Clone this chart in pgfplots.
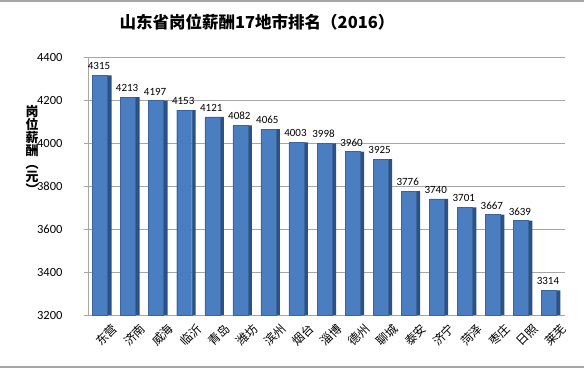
\documentclass[border=0pt]{standalone}
\usepackage{pgfplots}
\pgfplotsset{compat=1.18}
\usepackage{pgfplotstable}
\usepackage{fontspec}
\setmainfont{Carlito}
\newfontfamily\cjk{Noto Sans CJK SC}
\definecolor{barblue}{HTML}{4A7EC0}
\definecolor{barside}{HTML}{2B5286}
\definecolor{gridgray}{HTML}{A6A6A6}
\pgfplotstableread{
x val
0 4315
1 4213
2 4197
3 4153
4 4121
5 4082
6 4065
7 4003
8 3998
9 3960
10 3925
11 3776
12 3740
13 3701
14 3667
15 3639
16 3314
}\datatab
\begin{document}
\begin{tikzpicture}
\path[use as bounding box] (0,0) rectangle (584pt,368pt);
\fill[white] (0,0) rectangle (584pt,368pt);
\draw[gridgray, line width=1.5pt] (0,367pt) -- (584pt,367pt);
\draw[gridgray, line width=1.5pt] (0,1pt) -- (584pt,1pt);
\node[font=\cjk\bfseries\fontsize{16.5}{18}\selectfont] at (257pt,346pt) {山东省岗位薪酬17地市排名（2016）};
\node[font=\cjk\bfseries\fontsize{13}{15}\selectfont, align=center, inner sep=0pt] at (32pt,218pt)
  {岗\\[-2pt]位\\[-2pt]薪\\[-2pt]酬\\[-2pt]︵\\[-2pt]元\\[-2pt]︶};
\begin{axis}[
  at={(88pt,53pt)}, anchor=south west,
  scale only axis, width=477pt, height=258pt,
  ymin=3200, ymax=4400, ytick={3200,3400,...,4400},
  xmin=-0.5, xmax=16.5,
  xtick=data,
  xticklabels={东营,济南,威海,临沂,青岛,潍坊,滨州,烟台,淄博,德州,聊城,泰安,济宁,菏泽,枣庄,日照,莱芜},
  xticklabel style={font=\cjk\fontsize{12}{12}\selectfont, rotate=45, anchor=north east, inner sep=0pt, yshift=-9pt, xshift=4pt},
  yticklabel style={font=\fontsize{12.5}{12.5}\selectfont, anchor=east, xshift=-18pt},
  /pgf/number format/assume math mode=true,
  /pgf/number format/1000 sep={},
  axis lines*=left,
  axis line style={gridgray},
  ymajorgrids, grid style={gridgray, line width=0.6pt},
  major tick length=4pt,
  tick style={gridgray},
  xtick style={draw=none},
  ytick pos=left,
  tick align=outside,
  clip=false,
]
\addplot[ybar, bar width=4pt, bar shift=7.5pt, fill=barside, draw=none] table[x=x, y=val] {\datatab};
\addplot[ybar, bar width=15pt, bar shift=-2pt, fill=barblue, draw=barblue!80!black, line width=0.3pt,
  nodes near coords, nodes near coords style={font=\fontsize{11}{11}\selectfont, text=black, xshift=-3pt, yshift=2pt},
  point meta=explicit symbolic] table[x=x, y=val, meta=val] {\datatab};
\end{axis}
\end{tikzpicture}
\end{document}
